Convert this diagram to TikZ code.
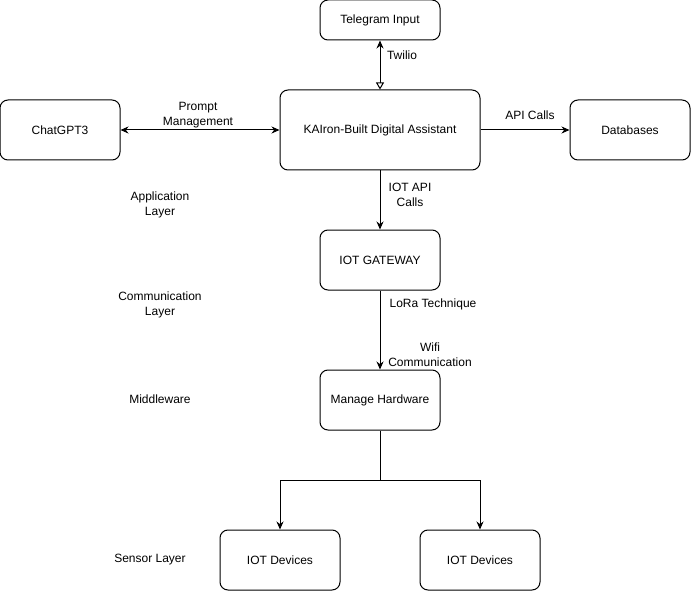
\documentclass[tikz,border=0pt]{standalone}
\usepackage{fontspec}
\setmainfont{Liberation Sans}
\usetikzlibrary{arrows.meta}
\begin{document}
\begin{tikzpicture}[x=1pt,y=-1pt,
  box/.style={draw=black,line width=1pt,rounded corners=8pt,fill=white,align=center,font=\fontsize{12}{14}\selectfont,inner sep=0pt},
  lbl/.style={align=center,font=\fontsize{12}{15}\selectfont,inner sep=0pt},
  conn/.style={line width=1pt,-{Stealth[length=8pt,width=7pt]}},
  ]
\useasboundingbox[fill=white] (0,0) rectangle (691,591);
\node[box,minimum width=120pt,minimum height=40pt] (tg) at (380,20) {Telegram Input};
\node[box,minimum width=200pt,minimum height=80pt] (ka) at (380,130) {KAIron-Built Digital Assistant};
\node[box,minimum width=120pt,minimum height=60pt] (gpt) at (60,130) {ChatGPT3};
\node[box,minimum width=120pt,minimum height=60pt] (db) at (630,130) {Databases};
\node[box,minimum width=120pt,minimum height=60pt] (gw) at (380,260) {IOT GATEWAY};
\node[box,minimum width=120pt,minimum height=60pt] (mh) at (380,400) {Manage Hardware};
\node[box,minimum width=120pt,minimum height=60pt] (d1) at (280,560) {IOT Devices};
\node[box,minimum width=120pt,minimum height=60pt] (d2) at (480,560) {IOT Devices};

\draw[line width=1pt,{Stealth[length=8pt,width=7pt]}-{Triangle[open,fill=white,length=7pt,width=8pt]}] (tg.south) -- (ka.north);
\draw[line width=1pt,{Stealth[length=8pt,width=7pt]}-{Stealth[length=8pt,width=7pt]}] (gpt.east) -- (ka.west);
\draw[conn] (ka.east) -- (db.west);
\draw[conn] (ka.south) -- (gw.north);
\draw[conn] (gw.south) -- (mh.north);
\coordinate (br) at (380,480);
\draw[line width=1pt] (mh.south) -- (br);
\draw[conn] (br) -| (d1.north);
\draw[conn] (br) -| (d2.north);

\node[lbl] (l1) at (402,55) {Twilio};
\node[lbl] (l2) at (198,115) {Prompt\\Management};
\node[lbl] (l3) at (530,115) {API Calls};
\node[lbl] (l4) at (410,195) {IOT API\\Calls};
\node[lbl] (l5) at (433,304) {LoRa Technique};
\node[lbl] (l6) at (430,355) {Wifi\\Communication};
\node[lbl] (l7) at (160,205) {Application\\Layer};
\node[lbl] (l8) at (160,305) {Communication\\Layer};
\node[lbl] (l9) at (160,399) {Middleware};
\node[lbl] (l10) at (150,560) {Sensor Layer};
\end{tikzpicture}
\end{document}
